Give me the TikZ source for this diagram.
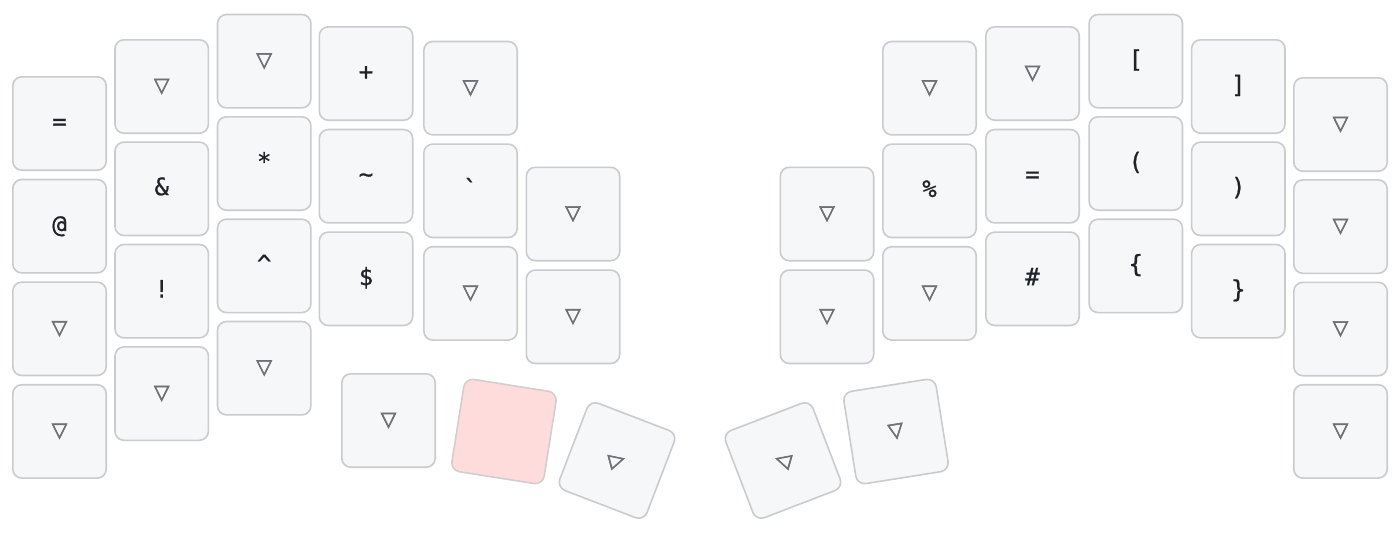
\documentclass[tikz,border=0pt]{standalone}
\usepackage{fontspec}
\setmonofont[FakeBold=0.8]{DejaVu Sans Mono}
\newfontfamily\symfnt[FakeBold=3]{DejaVu Sans}
\definecolor{keyfill}{HTML}{F6F7F9}
\definecolor{keyborder}{HTML}{C9CBCF}
\definecolor{keytext}{HTML}{1F2328}
\definecolor{trigray}{HTML}{6E7075}
\definecolor{pinkfill}{HTML}{FFDCDC}
\definecolor{pinkborder}{HTML}{D4CDCE}
\newcommand{\tri}{\symfnt\fontsize{20}{20}\selectfont\char"25BD}
\begin{document}
\begin{tikzpicture}[x=1pt,y=-1pt,
  keybase/.style={draw=keyborder, fill=keyfill, line width=1.6pt, rounded corners=9pt,
    minimum width=93.4pt, minimum height=93.4pt, inner sep=0pt},
  key/.style={keybase, text=keytext, font=\ttfamily\fontsize{24}{24}\selectfont,
    text height=18.5pt, text depth=5.8pt},
  tkey/.style={keybase, text=trigray},
  pinkkey/.style={keybase, fill=pinkfill, draw=pinkborder}]
\useasboundingbox (0,0) rectangle (1400,533);
% left half
\node[key]  (l00) at (59.5,123.5) {=};
\node[key]  (l01) at (59.5,226.2) {@};
\node[tkey] (l02) at (59.5,328.8) {\tri};
\node[tkey] (l03) at (59.5,431.4) {\tri};
\node[tkey] (l10) at (161.7,86.5) {\tri};
\node[key]  (l11) at (161.7,188.8) {\char"26};
\node[key]  (l12) at (161.7,291.2) {!};
\node[tkey] (l13) at (161.7,393.6) {\tri};
\node[tkey] (l20) at (264.2,61.2) {\tri};
\node[key]  (l21) at (264.2,163.5) {*};
\node[key]  (l22) at (264.2,265.9) {\char"5E};
\node[tkey] (l23) at (264.2,368.2) {\tri};
\node[key]  (l30) at (366,73.5) {+};
\node[key]  (l31) at (366,176.2) {\char"7E};
\node[key]  (l32) at (366,278.8) {\char"24};
\node[tkey] (l40) at (470.5,88.2) {\tri};
\node[key]  (l41) at (470.5,190.8) {\char"60};
\node[tkey] (l42) at (470.5,293.4) {\tri};
\node[tkey] (l50) at (573,214) {\tri};
\node[tkey] (l51) at (573,316.8) {\tri};
\node[tkey] (lt1) at (388.5,420.5) {\tri};
\node[pinkkey, rotate=-9] (lt2) at (504,431.5) {};
\node[tkey, rotate=-21] (lt3) at (617,460.5) {\rotatebox[origin=c]{126}{\tri}};
% right half
\node[tkey] (r50) at (827,214) {\tri};
\node[tkey] (r51) at (827,316.8) {\tri};
\node[tkey] (r40) at (929.5,88.2) {\tri};
\node[key]  (r41) at (929.5,190.8) {\char"25};
\node[tkey] (r42) at (929.5,293.4) {\tri};
\node[tkey] (r30) at (1032.5,73.5) {\tri};
\node[key]  (r31) at (1032.5,176.2) {=};
\node[key]  (r32) at (1032.5,278.8) {\char"23};
\node[key]  (r20) at (1135.8,61.2) {[};
\node[key]  (r21) at (1135.8,163.5) {(};
\node[key]  (r22) at (1135.8,265.9) {\char"7B};
\node[key]  (r10) at (1238.3,86.5) {]};
\node[key]  (r11) at (1238.3,188.8) {)};
\node[key]  (r12) at (1238.3,291.2) {\char"7D};
\node[tkey] (r00) at (1340.5,124.5) {\tri};
\node[tkey] (r01) at (1340.5,226.6) {\tri};
\node[tkey] (r02) at (1340.5,329) {\tri};
\node[tkey] (r03) at (1340.5,431.4) {\tri};
\node[tkey, rotate=21] (rt3) at (783,460.5) {\rotatebox[origin=c]{-127}{\tri}};
\node[tkey, rotate=9] (rt2) at (896,431.5) {\tri};
\end{tikzpicture}
\end{document}
